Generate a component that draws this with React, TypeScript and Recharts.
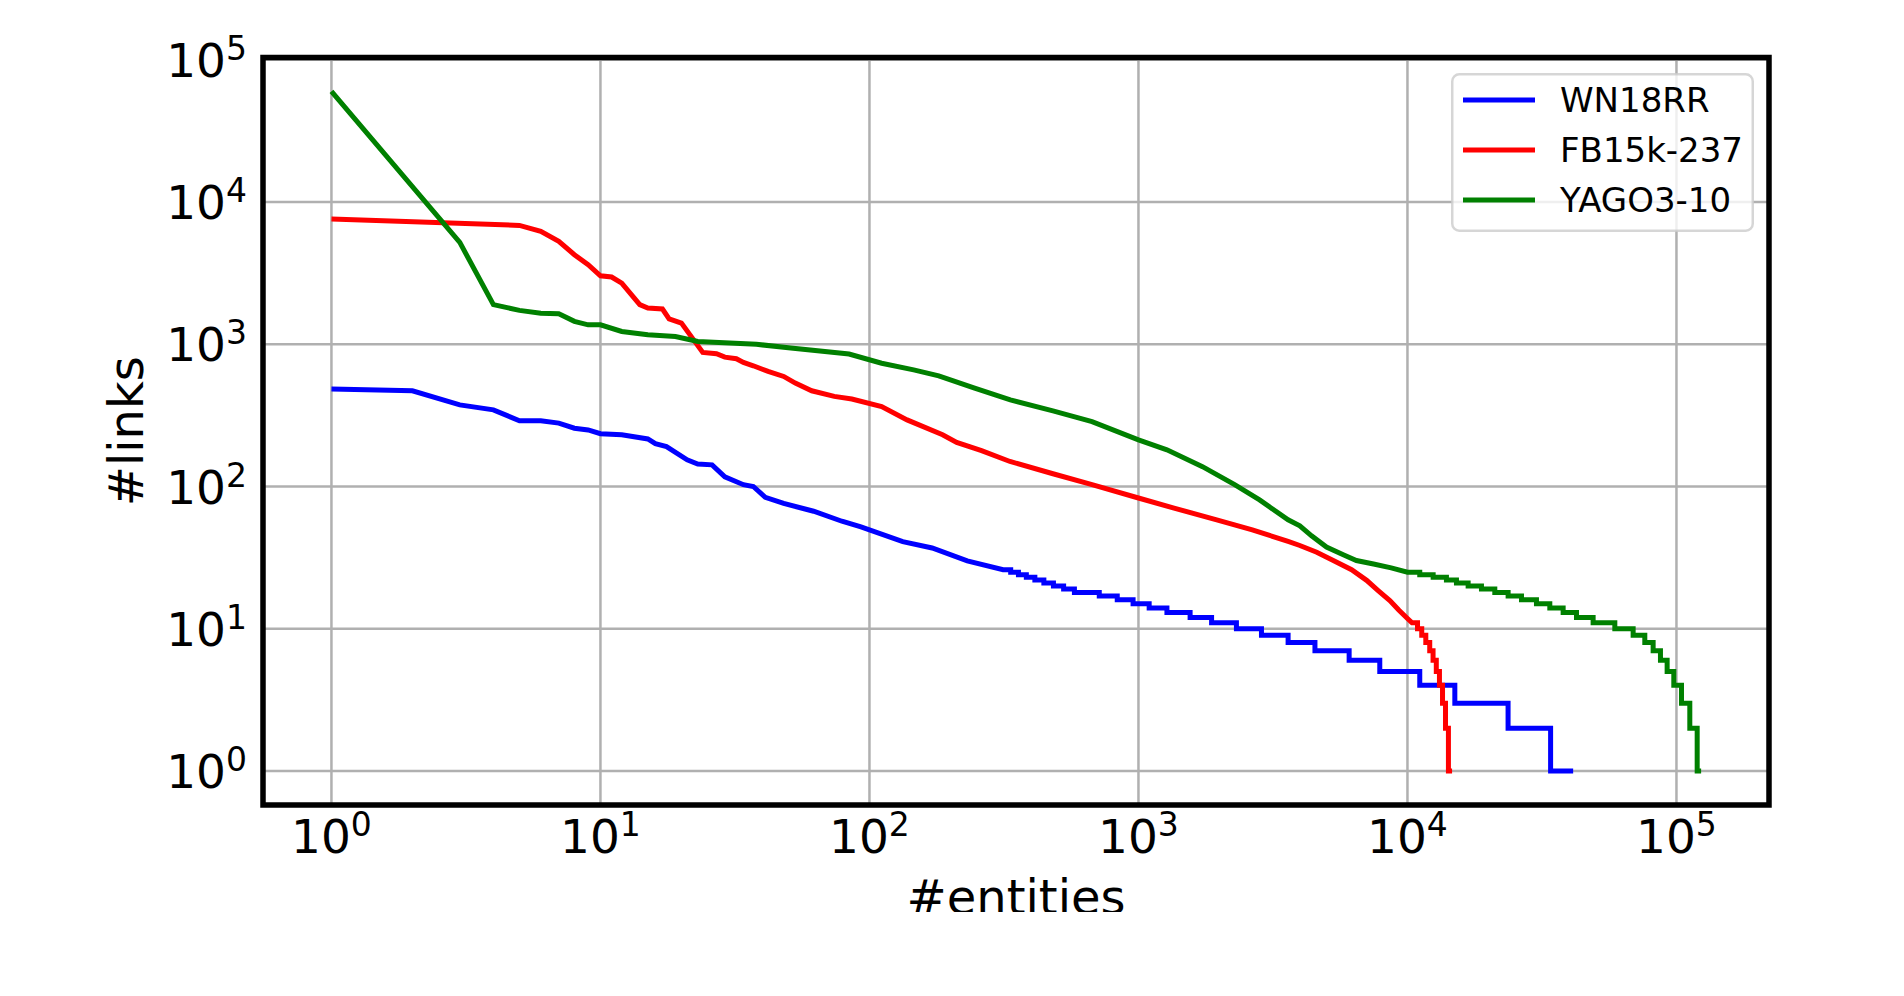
import { LineChart, Line, XAxis, YAxis, CartesianGrid, ReferenceArea, Legend } from "recharts"

const FONT = "DejaVu Sans"

const xTicks = [1, 10, 100, 1000, 10000, 100000]
const yTicks = [1, 10, 100, 1000, 10000, 100000]
const xDomain = [0.5566, 220800]
const yDomain = [0.5768, 103750]

const seriesNames = ["WN18RR", "FB15k-237", "YAGO3-10"]
const seriesColors = ["#0000ff", "#ff0000", "#008000"]

const wn18rrHead = [
  [1, 484], [2, 471], [3, 375], [4, 346], [5, 290], [6, 290], [7, 279], [8, 257],
  [9, 250], [10, 235], [12, 231], [15, 216], [16, 200], [17.6, 191], [21, 154],
  [23, 144], [26, 142], [29, 117], [34, 103], [37, 100], [41, 84], [48, 76],
  [62, 67], [79, 57], [93, 52], [100, 49.6], [133, 41], [171, 37], [231, 30],
]
// [#links level, from #entities, to #entities] for the stair part
const wn18rrSteps = [
  [26, 314, 335], [25, 335, 358], [24, 358, 383], [23, 383, 412], [22, 412, 445],
  [21, 445, 483], [20, 483, 527], [19, 527, 578], [18, 578, 715], [17, 715, 834],
  [16, 834, 955], [15, 955, 1096], [14, 1096, 1276], [13, 1276, 1556],
  [12, 1556, 1870], [11, 1870, 2313], [10, 2313, 2866], [9, 2866, 3600],
  [8, 3600, 4530], [7, 4530, 6070], [6, 6070, 7890], [5, 7890, 11110],
  [4, 11110, 15000], [3, 15000, 23660], [2, 23660, 34050], [1, 34050, 41300],
]

const fb15kHead = [
  [1, 7590], [5, 6850], [6, 6220], [7, 5290], [8, 4260], [9, 3630], [10, 3030],
  [11, 2970], [12, 2690], [14, 1900], [15, 1800], [17, 1770], [18, 1510],
  [20, 1410], [22, 1100], [24, 877], [27, 858], [29, 812], [32, 791], [34, 745],
  [37, 706], [42, 644], [48, 594], [53, 533], [61, 471], [74, 430], [86, 412],
  [111, 365], [138, 294], [187, 231], [211, 204], [261, 179], [333, 150],
  [481, 123], [672, 103], [1000, 83], [1356, 70.5], [1954, 58.3], [2650, 49.6],
  [3600, 41.1], [3980, 38.5], [4600, 34.5], [5300, 30.2], [6200, 26], [7050, 21.9],
  [7800, 18.5], [8600, 15.8], [9300, 13.5], [10000, 11.8],
]
const fb15kSteps = [
  [11, 10400, 10900], [10, 10900, 11300], [9, 11300, 11700], [8, 11700, 12100],
  [7, 12100, 12450], [6, 12450, 12800], [5, 12800, 13150], [4, 13150, 13500],
  [3, 13500, 13850], [2, 13850, 14200], [1, 14200, 14650],
]

const yagoHead = [
  [1, 60000], [3, 5200], [4, 1900], [5, 1730], [6, 1655], [7, 1640], [8, 1450],
  [9, 1370], [10, 1370], [12, 1230], [15, 1167], [19, 1135], [23, 1047],
  [38, 1000], [51, 940], [84, 853], [111, 736], [146, 661], [181, 600],
  [246, 491], [334, 406], [481, 340], [672, 286], [1000, 213], [1276, 181],
  [1730, 138], [2278, 103], [2820, 80.5], [3600, 58.3], [3980, 53], [4400, 45],
  [5000, 37.5], [5800, 33], [6460, 30.2], [7480, 28.5], [8700, 26.8],
]
const yagoSteps = [
  [25, 10000, 11110], [24, 11110, 12460], [23, 12460, 13960], [22, 13960, 15210],
  [21, 15210, 16810], [20, 16810, 18840], [19, 18840, 21120], [18, 21120, 23670],
  [17, 23670, 26540], [16, 26540, 30170], [15, 30170, 33820], [14, 33820, 37910],
  [13, 37910, 42500], [12, 42500, 49000], [11, 49000, 59000], [10, 59000, 69020],
  [9, 69020, 76260], [8, 76260, 81900], [7, 81900, 87200], [6, 87200, 92330],
  [5, 92330, 97750], [4, 97750, 104400], [3, 104400, 112100], [2, 112100, 119400],
  [1, 119400, 123500],
]

function toPoints(head: number[][], steps: number[][]) {
  const pts = head.map(([x, y]) => ({ x, y }))
  steps.forEach(([level, from, to]) => {
    pts.push({ x: from, y: level })
    pts.push({ x: to, y: level })
  })
  return pts
}

const seriesData = [
  toPoints(wn18rrHead, wn18rrSteps),
  toPoints(fb15kHead, fb15kSteps),
  toPoints(yagoHead, yagoSteps),
]

const exponent = (v: number) => Math.round(Math.log10(v))

const XTick = (props: any) => {
  const { x, y, payload } = props
  return (
    <text x={x} y={y + 48} textAnchor="middle" fontFamily={FONT} fontSize={47} fill="#000">
      <tspan>10</tspan>
      <tspan dy={-17} fontSize={33}>{exponent(payload.value)}</tspan>
    </text>
  )
}

const YTick = (props: any) => {
  const { x, y, payload } = props
  return (
    <text x={x - 16} y={y + 17} textAnchor="end" fontFamily={FONT} fontSize={47} fill="#000">
      <tspan>10</tspan>
      <tspan dy={-17} fontSize={33}>{exponent(payload.value)}</tspan>
    </text>
  )
}

const XLabel = (props: any) => {
  const { x, y, width } = props.viewBox
  return (
    <g>
      <defs>
        <clipPath id="xlabel-clip">
          <rect x={x} y={y} width={width} height={107} />
        </clipPath>
      </defs>
      <text
        x={x + width / 2}
        y={y + 109}
        textAnchor="middle"
        fontFamily={FONT}
        fontSize={48}
        fill="#000"
        clipPath="url(#xlabel-clip)"
      >
        #entities
      </text>
    </g>
  )
}

const YLabel = (props: any) => {
  const { y, height } = props.viewBox
  const cy = y + height / 2
  return (
    <text
      x={135}
      y={cy}
      transform={`rotate(-90, 135, ${cy})`}
      textAnchor="middle"
      fontFamily={FONT}
      fontSize={48}
      fill="#000"
    >
      #links
    </text>
  )
}

const renderLegend = (props: any) => {
  const items = [...(props.payload || [])].sort(
    (a: any, b: any) => seriesNames.indexOf(a.value) - seriesNames.indexOf(b.value)
  )
  return (
    <svg width={303} height={159} style={{ display: "block" }}>
      <rect
        x={1.25}
        y={1.25}
        width={300.5}
        height={156.5}
        rx={7}
        fill="#ffffff"
        fillOpacity={0.8}
        stroke="#cccccc"
        strokeOpacity={0.8}
        strokeWidth={2.5}
      />
      {items.map((entry: any, i: number) => (
        <g key={entry.value}>
          <line x1={12} x2={84} y1={27 + 50 * i} y2={27 + 50 * i} stroke={entry.color} strokeWidth={5} />
          <text x={109} y={27 + 50 * i + 12.4} fontFamily={FONT} fontSize={34} fill="#000">
            {entry.value}
          </text>
        </g>
      ))}
    </svg>
  )
}

export default function App() {
  return (
    <div style={{ width: 1888, height: 920, background: "#fff" }}>
      <LineChart width={1888} height={920} margin={{ top: 49.5, right: 127, left: 0, bottom: 0 }}>
        <CartesianGrid stroke="#b0b0b0" strokeWidth={2.5} />
        <XAxis
          dataKey="x"
          type="number"
          scale="log"
          domain={xDomain}
          allowDataOverflow
          ticks={xTicks}
          height={123}
          axisLine={false}
          tickLine={false}
          tickSize={0}
          tickMargin={0}
          tick={XTick}
          interval={0}
          label={XLabel}
        />
        <YAxis
          type="number"
          scale="log"
          domain={yDomain}
          allowDataOverflow
          ticks={yTicks}
          width={255}
          axisLine={false}
          tickLine={false}
          tickSize={0}
          tickMargin={0}
          tick={YTick}
          interval={0}
          label={YLabel}
        />
        {seriesNames.map((name, i) => (
          <Line
            key={name}
            name={name}
            data={seriesData[i]}
            dataKey="y"
            type="linear"
            stroke={seriesColors[i]}
            strokeWidth={5}
            dot={false}
            activeDot={false}
            isAnimationActive={false}
          />
        ))}
        <ReferenceArea
          x1={xDomain[0]}
          x2={xDomain[1]}
          y1={yDomain[0]}
          y2={yDomain[1]}
          fill="none"
          stroke="#000"
          strokeWidth={5.5}
          ifOverflow="visible"
        />
        <Legend
          layout="vertical"
          align="center"
          verticalAlign="middle"
          content={renderLegend}
          wrapperStyle={{ left: 1443, top: 65, width: 303, height: 159 }}
        />
      </LineChart>
    </div>
  )
}
